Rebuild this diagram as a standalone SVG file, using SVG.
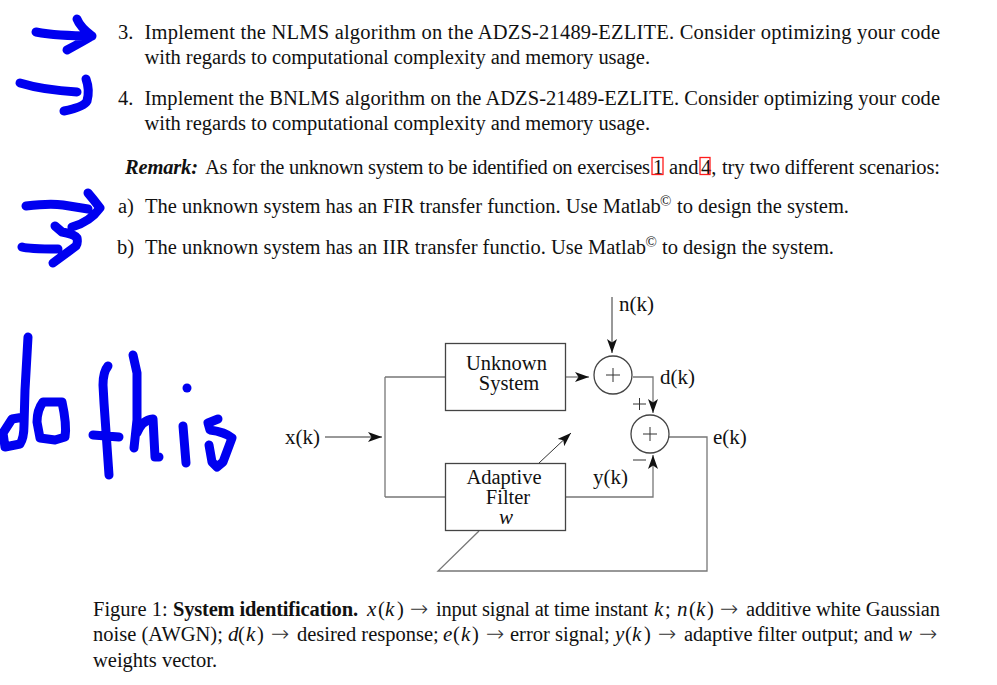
<svg xmlns="http://www.w3.org/2000/svg" width="997" height="685" viewBox="0 0 997 685">
<style>
text{font-family:"Liberation Serif","Times New Roman",serif;font-size:20.5px;fill:#111}
.i{font-style:italic;font-size:21px}
.b{font-weight:bold}
.a{font-family:"DejaVu Sans",sans-serif;font-size:22px;font-weight:200;fill:#333}
.sup{font-size:15px}
.d{text-anchor:middle}
.l{font-size:21px}
.ww{font-size:21px;font-style:italic;text-anchor:middle}
.ink{fill:none;stroke:#0000f0;stroke-width:9;stroke-linecap:round;stroke-linejoin:round}
.w{fill:none;stroke:#777;stroke-width:1.3}
.box{fill:#fff;stroke:#444;stroke-width:1.3}
.thin{fill:none;stroke:#333;stroke-width:1}
.r{fill:none;stroke:#ff1c1c;stroke-width:1.300}
</style>
<defs>
<marker id="ah" markerUnits="userSpaceOnUse" markerWidth="15" markerHeight="10" refX="14" refY="5" orient="auto"><path d="M0 0L14 5L0 10L3.500 5Z" fill="#111"/></marker>
</defs>
<rect width="997" height="685" fill="#fff"/>
<g id="body-text">
<text x="118" y="39">3.</text>
<text x="144.500" y="39" textLength="795.500" lengthAdjust="spacing">Implement the NLMS algorithm on the ADZS-21489-EZLITE. Consider optimizing your code</text>
<text x="144.500" y="64" textLength="505.500" lengthAdjust="spacing">with regards to computational complexity and memory usage.</text>
<text x="118" y="105">4.</text>
<text x="144.500" y="105" textLength="795.500" lengthAdjust="spacing">Implement the BNLMS algorithm on the ADZS-21489-EZLITE. Consider optimizing your code</text>
<text x="144.500" y="130" textLength="505.500" lengthAdjust="spacing">with regards to computational complexity and memory usage.</text>
<text x="125" y="174" class="b" font-style="italic" textLength="73" lengthAdjust="spacing">Remark:</text>
<text x="205" y="174" textLength="445" lengthAdjust="spacing">As for the unknown system to be identified on exercises</text>
<text x="653" y="174">1</text>
<text x="669" y="174">and</text>
<text x="701" y="174">4,</text>
<text x="722" y="174" textLength="218" lengthAdjust="spacing">try two different scenarios:</text>
<rect class="r" x="652" y="157.500" width="11" height="17"/>
<rect class="r" x="700" y="157.500" width="10" height="17"/>
<text x="118" y="213">a)</text>
<text x="145" y="213">The unknown system has an FIR transfer function. Use Matlab</text>
<text x="660" y="206" class="sup">©</text>
<text x="677" y="213">to design the system.</text>
<text x="117" y="254">b)</text>
<text x="145" y="254">The unknown system has an IIR transfer functio. Use Matlab</text>
<text x="645.500" y="247" class="sup">©</text>
<text x="662" y="254">to design the system.</text>
</g>
<g id="connectors">
<path class="w" d="M385 377V497M385 377H445M385 497H445"/>
<path class="thin" d="M325 437H382" marker-end="url(#ah)"/>
<path class="w" d="M566 377H589" marker-end="url(#ah)"/>
<path class="thin" d="M612 297V353" marker-end="url(#ah)"/>
<path class="w" d="M633 377H653V413" marker-end="url(#ah)"/>
<path class="w" d="M566 497H653V455" marker-end="url(#ah)"/>
<path class="w" d="M668 437H707V571H438L479 531"/>
<path class="thin" d="M539 463L571 433" marker-end="url(#ah)"/>
</g>
<g id="unknown-system">
<rect class="box" x="445.500" y="343.500" width="120" height="67"/>
<text class="d" x="506.500" y="370">Unknown</text>
<text class="d" x="509" y="390">System</text>
</g>
<g id="adaptive-filter">
<rect class="box" x="445.500" y="463.500" width="120" height="67"/>
<text class="d" x="504" y="484">Adaptive</text>
<text class="d" x="508" y="504">Filter</text>
<text class="ww" x="506" y="524">w</text>
</g>
<g id="sum-top">
<circle class="box" cx="613" cy="375" r="19"/>
<path class="thin" d="M606 375H620M613 368V382"/>
</g>
<g id="sum-bottom">
<circle class="box" cx="650" cy="434" r="19"/>
<path class="thin" d="M643 434H657M650 427V441"/>
</g>
<g id="signal-labels">
<text class="l" x="619" y="311">n(k)</text>
<text class="l" x="660" y="384">d(k)</text>
<text class="l" x="285" y="444">x(k)</text>
<text class="l" x="593" y="484">y(k)</text>
<text class="l" x="713" y="444">e(k)</text>
<path class="thin" d="M633 404H646M639.500 398V410M633 460H646"/>
</g>
<g id="caption">
<text x="93" y="616">Figure 1:</text>
<text x="173" y="616" class="b" textLength="185" lengthAdjust="spacing">System identification.</text>
<text x="367" y="616" class="i">x</text><text x="378" y="616">(</text><text x="385" y="616" class="i">k</text><text x="397" y="616">)</text><text x="410" y="616" class="a">→</text>
<text x="436" y="616" textLength="212" lengthAdjust="spacing">input signal at time instant</text>
<text x="654" y="616" class="i">k</text><text x="665" y="616">;</text>
<text x="677" y="616" class="i">n</text><text x="689" y="616">(</text><text x="696" y="616" class="i">k</text><text x="707" y="616">)</text><text x="720" y="616" class="a">→</text>
<text x="746" y="616" textLength="194" lengthAdjust="spacing">additive white Gaussian</text>
<text x="93" y="641">noise (AWGN);</text>
<text x="228" y="641" class="i">d</text><text x="238" y="641">(</text><text x="246" y="641" class="i">k</text><text x="257" y="641">)</text><text x="271" y="641" class="a">→</text>
<text x="297" y="641">desired response;</text>
<text x="443" y="641" class="i">e</text><text x="453" y="641">(</text><text x="461" y="641" class="i">k</text><text x="472" y="641">)</text><text x="486" y="641" class="a">→</text>
<text x="510" y="641">error signal;</text>
<text x="615" y="641" class="i">y</text><text x="625" y="641">(</text><text x="632" y="641" class="i">k</text><text x="644" y="641">)</text><text x="658" y="641" class="a">→</text>
<text x="684" y="641" textLength="209" lengthAdjust="spacing">adaptive filter output; and</text>
<text x="898" y="641" class="i">w</text><text x="919" y="641" class="a">→</text>
<text x="93" y="667">weights vector.</text>
</g>
<g id="ink">
<path class="ink" d="M36 32Q57 36 92 36M77 19Q80 27 92 36Q82 42 67 50"/>
<path class="ink" d="M20 83Q43 90 77 92M86 79Q90 90 87 101Q84 107 64 111"/>
<path class="ink" d="M26 206Q50 203 63 205L88 209M88 193Q94 200 100 208Q90 222 72 227M55 226L62 232Q74 234 77 238Q78 243 76 246L53 263M22 247Q28 249 58 249"/>
<path class="ink" d="M28 337L25 390L24 425Q24 438 20 444L5 447L3 433L12 419L24 417"/>
<path class="ink" d="M43 402Q37 410 37 422L40 438L55 440L65 437Q67 425 62 402Z"/>
<path class="ink" d="M108 366Q103 372 103 385L104 403L109 475M93 435L119 437"/>
<path class="ink" d="M133 355L137 373V420L134 448M137 433Q142 420 153 419L155 457H159"/>
<path class="ink" d="M183 426L186 463"/>
<path class="ink" d="M218 419L208 423L210 430Q225 432 232 438L223 462L217 467L212 462L209 445"/>
<circle cx="187" cy="388" r="4.500" fill="#0000f0"/>
</g>
</svg>
